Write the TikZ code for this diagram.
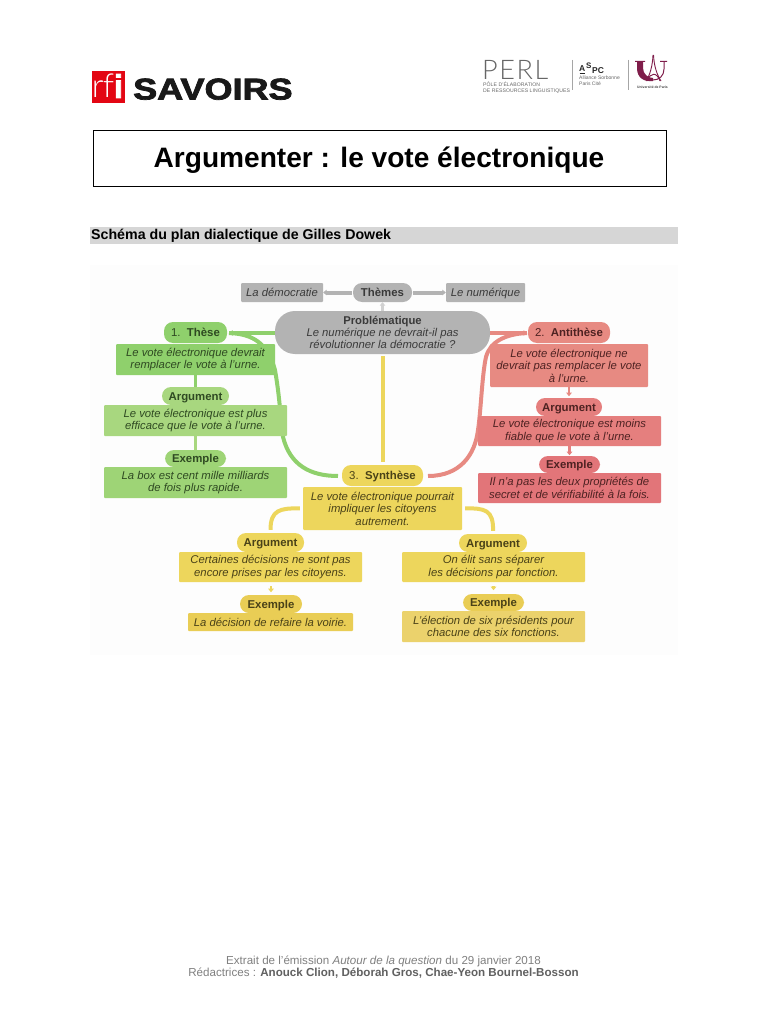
\documentclass[tikz,border=0pt]{standalone}
\usepackage{fontspec}
\setmainfont{Liberation Sans}
\setsansfont{Liberation Sans}
\newfontfamily\heavy[FakeBold=2.4]{Liberation Sans Bold}
\newfontfamily\thinf{Lato Light}
\usetikzlibrary{arrows.meta}
\definecolor{grayN}{HTML}{B3B3B3}
\definecolor{grayT}{HTML}{3A3A3A}
\definecolor{gA}{HTML}{8FD06C}
\definecolor{gB}{HTML}{A8D77F}
\definecolor{gC}{HTML}{9ED476}
\definecolor{gT}{HTML}{2F4A22}
\definecolor{rA}{HTML}{E78A82}
\definecolor{rB}{HTML}{E57F7E}
\definecolor{rC}{HTML}{E27579}
\definecolor{rT}{HTML}{4E2222}
\definecolor{yA}{HTML}{EDD65C}
\definecolor{yB}{HTML}{E9CD55}
\definecolor{yC}{HTML}{EBD26C}
\definecolor{yT}{HTML}{4A4218}
\newcommand{\fs}[1]{\fontsize{#1}{#1}\selectfont}
\newcommand{\fl}[2]{\fontsize{#1}{#2}\selectfont}
\tikzset{
  x=1pt,y=-1pt,
  pillbox/.style={inner sep=0pt,rounded corners=9pt,font=\fs{11.4}\bfseries,text height=8.2pt,text depth=0pt},
  textbox/.style={inner sep=0pt,rounded corners=1pt,align=center,font=\fl{11.3}{12.4}\itshape},
  oneline/.style={text height=8pt,text depth=0pt},
  lk/.style={line width=4pt,line cap=butt},
  lkthin/.style={line width=2.2pt},
  lktip/.style={-{Triangle[length=3.5pt,width=5.5pt]}},
}
% \bx{name}{x1}{y1}{x2}{y2}{options}{text}
\newcommand{\bx}[7]{\node[#6,minimum width=#4pt-#2pt,minimum height=#5pt-#3pt] (#1) at ({(#2+#4)/2},{(#3+#5)/2}) {#7};}
\begin{document}
\begin{tikzpicture}
\useasboundingbox (0,0) rectangle (768,1024);
\fill[white] (0,0) rectangle (768,1024);
% header: RFI logo
\fill[fill={rgb,255:red,227;green,6;blue,19}] (92,71) rectangle (125,103);
\node[anchor=base,text=white,font=\thinf\fs{33},inner sep=0pt] (rfi) at (103,98) {\addfontfeatures{LetterSpace=-2}rf};
\node[anchor=base,text=white,font=\heavy\fs{33},inner sep=0pt] (rfii) at (118.5,98) {i};
\node[anchor=base west,inner sep=0pt,text=black!90,font=\heavy\fs{30}] (sav) at (133,99.5) {\scalebox{1.2}[1]{SAVOIRS}};
% PERL
\node[anchor=base west,inner sep=0pt,text=black!60,font=\thinf\fs{27}] (perl) at (482,80) {\addfontfeatures{LetterSpace=6}PERL};
\node[anchor=base west,inner sep=0pt,text=black!60,font=\fs{5.1}] (perla) at (483,87) {\addfontfeatures{LetterSpace=1.5}PÔLE D'ÉLABORATION};
\node[anchor=base west,inner sep=0pt,text=black!60,font=\fs{5.1}] (perlb) at (483,93) {\addfontfeatures{LetterSpace=1.5}DE RESSOURCES LINGUISTIQUES};
\draw[black!35,line width=.6pt] (572,60) -- (572,90);
\node[anchor=base west,inner sep=0pt,text=black!85,font=\fs{8.5}\bfseries] (aspc) at (579,72) {A};
\draw[black!85,line width=.7pt] (579.5,73.2) -- (585,73.2);
\node[anchor=base west,inner sep=0pt,text=black!85,font=\fs{8}\bfseries] (aspc2) at (586,68.5) {S};
\node[anchor=base west,inner sep=0pt,text=black!85,font=\fs{8.5}\bfseries] (aspc3) at (592,73.5) {PC};
\node[anchor=base west,inner sep=0pt,text=black!60,font=\fs{5}] (aspca) at (579,80) {Alliance Sorbonne};
\node[anchor=base west,inner sep=0pt,text=black!60,font=\fs{5}] (aspcb) at (579,86) {Paris Cité};
\draw[black!35,line width=.6pt] (628,60) -- (628,90);
% Université de Paris logo
\definecolor{burg}{HTML}{7F1D4A}
\fill[burg] (635,61) -- (645,61) -- (645,62) -- (643,62) -- (643,68) .. controls (643,74) and (648,78) .. (653,78) -- (653,81) .. controls (644,82) and (637,78) .. (637,68) -- (637,62) -- (635,62) -- cycle;
\draw[burg,line width=1pt] (660,61.5) -- (667,61.5) (664,61.5) -- (664,69) .. controls (664,76) and (659,80) .. (653,80);
\draw[burg,line width=.9pt] (653,55) .. controls (652.5,66) and (650,75) .. (646,81);
\draw[burg,line width=.9pt] (653.5,55) .. controls (654,66) and (657,75) .. (661,81);
\draw[burg,line width=.9pt] (647.5,81) .. controls (650,72) and (657,72) .. (660,81);
\node[inner sep=0pt,text=black!75,font=\fs{3.4}\bfseries] (upc) at (652.5,87.5) {Université de Paris};
% title
\node[draw=black,line width=.9pt,inner sep=0pt,minimum width=573pt,minimum height=56pt] (title) at (379.5,158) {};
\node[anchor=base,inner sep=0pt,font=\fs{28.1}\bfseries] (titlet) at (379,168) {Argumenter : le vote électronique};
\fill[black!16] (90,227) rectangle (678,244);
\node[anchor=base west,inner sep=0pt,font=\fs{14.2}\bfseries] (sect) at (91,240) {Schéma du plan dialectique de Gilles Dowek};
% image background
\fill[black!0.8] (90,265) rectangle (678,655);
% footer
\node[inner sep=0pt,text=black!50,font=\fs{11.6}] (foot1) at (383.5,961) {Extrait de l'émission \textit{Autour de la question} du 29 janvier 2018};
\node[inner sep=0pt,text=black!50,font=\fs{11.6}] (foot2) at (383.5,973) {Rédactrices : \textbf{\textcolor{black!62}{Anouck Clion, Déborah Gros, Chae-Yeon Bournel-Bosson}}};
% nodes
\bx{dem}{241}{283}{323}{302}{textbox,oneline,fill=grayN,text=grayT}{La démocratie}
\bx{num}{446}{283}{525}{302}{textbox,oneline,fill=grayN,text=grayT}{Le numérique}
\bx{themes}{353}{283}{412}{302}{pillbox,fill=grayN,text=grayT}{Thèmes}
\bx{prob}{275}{311}{490}{354}{textbox,fill=grayN,text=grayT,rounded corners=20pt}{\textbf{\upshape Problématique}\\Le numérique ne devrait-il pas\\révolutionner la démocratie ?}
\coordinate (tE) at (229,333);
\coordinate (aW) at (527,333);
\coordinate (sW) at (338,476);
\coordinate (sE) at (428,476);
% connectors drawn under nodes
\draw[lk,gA] (tE) .. controls (255,334) and (268,345) .. (275,370) .. controls (281,405) and (280,420) .. (283,437) .. controls (290,465) and (310,476) .. (sW);
\draw[lk,rA] (aW) .. controls (505,334) and (490,342) .. (486,357) .. controls (482,375) and (481,410) .. (478,430) .. controls (475,455) and (460,476) .. (sE);
\draw[lk,gA,lktip] (prob.west |- tE) -- (tE);
\draw[lk,rA,lktip] (prob.east |- aW) -- (aW);
\draw[lk,grayN,lktip] (themes.west) ++(-1,0) -- (dem.east);
\draw[lk,grayN,lktip] (themes.east) ++(1,0) -- (num.west);
\draw[lkthin,grayN!60,lktip] (prob.north) -- (themes.south);
\bx{these}{164}{322}{227}{343}{pillbox,fill=gA,text=gT}{\mdseries 1.\ \ \bfseries Thèse}
\bx{theseB}{116}{344}{275}{375}{textbox,fill=gA,text=gT}{Le vote électronique devrait\\remplacer le vote à l'urne.}
\bx{argG}{162}{387}{229}{405}{pillbox,fill=gB,text=gT}{Argument}
\bx{argGB}{104}{405}{287}{436}{textbox,fill=gB,text=gT}{Le vote électronique est plus\\efficace que le vote à l'urne.}
\bx{exG}{165}{450}{226}{467}{pillbox,fill=gC,text=gT}{Exemple}
\bx{exGB}{104}{467}{287}{498}{textbox,fill=gC,text=gT}{La box est cent mille milliards\\de fois plus rapide.}
\bx{anti}{528}{322}{610}{343}{pillbox,fill=rA,text=rT}{\mdseries 2.\ \ \bfseries Antithèse}
\bx{antiB}{490}{344}{648}{387}{textbox,fill=rA,text=rT}{Le vote électronique ne\\devrait pas remplacer le vote\\à l'urne.}
\bx{argR}{536}{398}{602}{416}{pillbox,fill=rB,text=rT}{Argument}
\bx{argRB}{478}{416}{661}{446}{textbox,fill=rB,text=rT}{Le vote électronique est moins\\fiable que le vote à l'urne.}
\bx{exR}{539}{456}{600}{473}{pillbox,fill=rC,text=rT}{Exemple}
\bx{exRB}{478}{473}{661}{503}{textbox,fill=rC,text=rT}{Il n'a pas les deux propriétés de\\secret et de vérifiabilité à la fois.}
\bx{syn}{342}{465}{423}{486}{pillbox,fill=yA,text=yT}{\mdseries 3.\ \ \bfseries Synthèse}
\bx{synB}{303}{487}{462}{530}{textbox,fill=yA,text=yT}{Le vote électronique pourrait\\impliquer les citoyens\\autrement.}
\bx{argL}{237}{533}{304}{552}{pillbox,fill=yA,text=yT}{Argument}
\bx{argLB}{179}{552}{362}{582}{textbox,fill=yA,text=yT}{Certaines décisions ne sont pas\\encore prises par les citoyens.}
\bx{exL}{240}{595}{302}{613}{pillbox,fill=yB,text=yT}{Exemple}
\bx{exLB}{188}{613}{353}{631}{textbox,oneline,fill=yB,text=yT}{La décision de refaire la voirie.}
\bx{argD}{459}{534}{527}{552}{pillbox,fill=yA,text=yT}{Argument}
\bx{argDB}{402}{552}{585}{582}{textbox,fill=yA,text=yT}{On élit sans séparer\\les décisions par fonction.}
\bx{exD}{463}{594}{524}{611}{pillbox,fill=yB,text=yT}{Exemple}
\bx{exDB}{402}{611}{585}{642}{textbox,fill=yC,text=yT}{L'élection de six présidents pour\\chacune des six fonctions.}
% connectors over the picture
\draw[lk,yA,shorten <=2pt,shorten >=3pt] (prob.south -| syn.north) -- (syn.north);
\draw[lkthin,gA] (theseB.south -| argG.north) -- (argG.north);
\draw[lkthin,gB] (argGB.south -| exG.north) -- (exG.north);
\draw[lkthin,rA,lktip] (antiB.south -| argR.north) -- ++(0,9);
\draw[lkthin,rB,lktip] (argRB.south -| exR.north) -- ++(0,9);
\draw[lkthin,yA,lktip,shorten <=4pt] (argLB.south -| exL.north) -- ++(0,10);
\draw[lkthin,yA,lktip,shorten <=4pt] (argDB.south -| exD.north) -- ++(0,8);
\draw[lk,yA,shorten <=3pt,shorten >=3pt] (synB.west) .. controls (280,508) and (270.5,510) .. (argL.north);
\draw[lk,yA,shorten <=3pt,shorten >=3pt] (synB.east) .. controls (485,508) and (493.5,510) .. (argD.north);
\end{tikzpicture}
\end{document}
